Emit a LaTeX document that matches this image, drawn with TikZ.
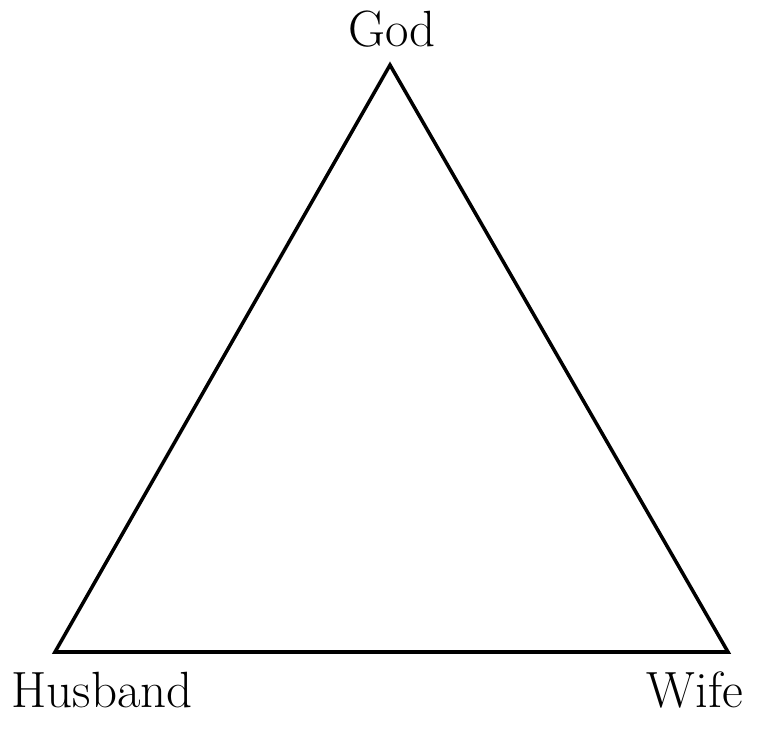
\documentclass[tikz,border=0pt]{standalone}
\usepackage{tikz}

\begin{document}
\begin{tikzpicture}[line width=2pt,
  lbl/.style={font=\fontsize{29}{33}\selectfont, anchor=base, inner sep=0pt}]
\useasboundingbox (0,0) rectangle (15.36,14.58);
\coordinate (G) at (7.8,13.28); \coordinate (H) at (1.1,1.54); \coordinate (W) at (14.56,1.54);
\draw (G) -- (H) -- (W) -- cycle;
\node[lbl] (god) at (7.84,13.64) {God};
\node[lbl] (husband) at (2.04,0.42) {Husband};
\node[lbl] (wife) at (13.9,0.42) {Wife};
\end{tikzpicture}
\end{document}
